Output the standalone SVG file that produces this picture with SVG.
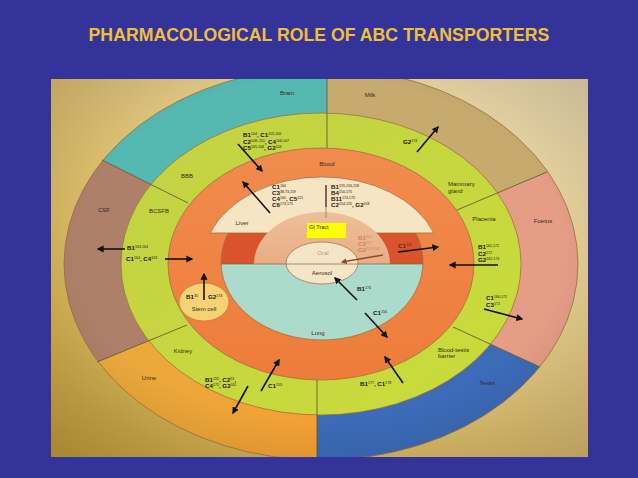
<svg xmlns="http://www.w3.org/2000/svg" width="638" height="478" viewBox="0 0 638 478">
<defs>
<style>
.title{font-family:"Liberation Sans",Arial,sans-serif;font-weight:bold;font-size:17.7px;fill:#f0c034;text-anchor:middle}
.rl{font-family:"Liberation Sans",Arial,sans-serif;font-size:6px;fill:#3a2a1c;text-anchor:middle}
.rs{font-family:"Liberation Sans",Arial,sans-serif;font-size:6px;fill:#3a2a1c}
.tl{font-family:"Liberation Sans",Arial,sans-serif;font-weight:bold;font-size:6.2px;fill:#1e1610}
.tf{font-family:"Liberation Sans",Arial,sans-serif;font-weight:bold;font-size:6.2px;fill:#c98566}
.sp{font-size:3.6px;baseline-shift:super;font-weight:normal}
.div{stroke:#6e5a30;stroke-width:0.9;fill:none}
.edge{stroke:#a0703c;stroke-width:0.8}
.arr{stroke:#111;stroke-width:1.6;fill:none;marker-end:url(#ah)}
.arrb{stroke:#8a4a32;stroke-width:1.3;fill:none;marker-end:url(#ahb)}
</style>
<marker id="ah" viewBox="0 0 10 10" refX="8" refY="5" markerWidth="4.4" markerHeight="4.4" orient="auto" markerUnits="strokeWidth"><path d="M0,0 L10,5 L0,10 Z" fill="#111"/></marker>
<marker id="ahb" viewBox="0 0 10 10" refX="8" refY="5" markerWidth="4.5" markerHeight="4.5" orient="auto" markerUnits="strokeWidth"><path d="M0,0 L10,5 L0,10 Z" fill="#8a4a32"/></marker>
<linearGradient id="paper" x1="0" y1="1" x2="1" y2="0">
<stop offset="0" stop-color="#c6a23e"/><stop offset="0.45" stop-color="#ddc070"/><stop offset="1" stop-color="#e9d8b2"/>
</linearGradient>
<linearGradient id="urineG" x1="0" y1="0" x2="1" y2="0">
<stop offset="0" stop-color="#e6b040"/><stop offset="1" stop-color="#f3a035"/>
</linearGradient>
<linearGradient id="gG" x1="0" y1="0" x2="1" y2="1">
<stop offset="0" stop-color="#c2d244"/><stop offset="1" stop-color="#cadc3a"/>
</linearGradient>
<linearGradient id="oG" x1="0" y1="0" x2="0" y2="1">
<stop offset="0" stop-color="#f08c4e"/><stop offset="1" stop-color="#ee7c3a"/>
</linearGradient>
<linearGradient id="domeG" x1="0" y1="0" x2="0" y2="1">
<stop offset="0" stop-color="#ecc09a"/><stop offset="1" stop-color="#e79a6c"/>
</linearGradient>
<radialGradient id="vig" cx="0.5" cy="0.45" r="0.75">
<stop offset="0.6" stop-color="#000" stop-opacity="0"/><stop offset="1" stop-color="#3a2200" stop-opacity="0.22"/>
</radialGradient>
<clipPath id="photo"><rect x="51" y="79" width="537" height="378"/></clipPath>
<clipPath id="outerE"><ellipse cx="321" cy="264" rx="257" ry="196"/></clipPath>
<clipPath id="disc"><ellipse cx="322" cy="262" rx="101" ry="78"/></clipPath>
<clipPath id="above"><rect x="0" y="0" width="638" height="264"/></clipPath>
</defs>

<rect width="638" height="478" fill="#333399"/>
<text class="title" x="319" y="41.4">PHARMACOLOGICAL ROLE OF ABC TRANSPORTERS</text>

<g clip-path="url(#photo)">
<rect x="51" y="79" width="537" height="378" fill="url(#paper)"/>

<g id="outer-ring" clip-path="url(#outerE)">
<g id="brain"><path d="M320,266 L188,203 L0,109 L0,0 L327,0 L327,266 Z" fill="#55b9b1"/></g>
<g id="milk"><path d="M327,266 L327,0 L638,0 L638,134 L457,210 Z" fill="#c7aa6e"/></g>
<g id="foetus"><path d="M320,266 L457,210 L638,134 L638,412 L453,327 Z" fill="#e59d86"/></g>
<g id="testis"><path d="M320,266 L453,327 L638,412 L638,478 L317,478 L317,266 Z" fill="#3c6bb8"/></g>
<g id="urine"><path d="M317,266 L317,478 L0,478 L0,402 L187,325 Z" fill="url(#urineG)"/></g>
<g id="csf"><path d="M320,266 L187,325 L0,402 L0,109 L188,203 Z" fill="#ae806a"/></g>
</g>
<ellipse cx="321" cy="264" rx="257" ry="196" fill="none" class="edge"/>

<g id="green-ring"><ellipse cx="321" cy="264" rx="200" ry="151" fill="url(#gG)" class="edge"/></g>
<g id="blood-ring"><ellipse cx="321" cy="264" rx="153" ry="116" fill="url(#oG)" class="edge"/></g>

<g id="inner-disc">
<g clip-path="url(#disc)">
<rect x="210" y="230" width="220" height="34" fill="#d9542c"/>
<rect x="210" y="264" width="220" height="80" fill="#acdacb"/>
</g>
<ellipse cx="322" cy="262" rx="101" ry="78" fill="none" class="edge"/>
</g>

<g id="liver">
<path d="M210.1,233 A119,85 0 0 1 433.9,233 Z" fill="#f6e5c2" class="edge"/>
</g>

<g id="gi-tract">
<ellipse cx="322" cy="264" rx="68" ry="52" fill="url(#domeG)" clip-path="url(#above)"/>
<line x1="221" y1="264" x2="423" y2="264" stroke="#8a6040" stroke-width="0.7"/>
<rect x="307" y="223" width="39" height="15" fill="#ffff00"/>
<text x="309" y="229" style="font-family:'Liberation Sans',Arial,sans-serif;font-size:5.5px;fill:#222">GI Tract</text>
</g>

<g id="oral-aerosol">
<ellipse cx="322" cy="263" rx="36" ry="21" fill="#f4e5c6" stroke="#a06a40" stroke-width="0.7"/>
<line x1="286" y1="264" x2="358" y2="264" stroke="#8a6040" stroke-width="0.7"/>
<text class="rl" x="323" y="255" style="fill:#b49c84">Oral</text>
<text class="rl" x="322" y="275">Aerosol</text>
</g>

<g id="stem-cell">
<ellipse cx="204" cy="302" rx="25" ry="19" fill="#f5d274" stroke="#c8783a" stroke-width="0.8"/>
<text class="tl" x="186" y="299">B1<tspan class="sp">35</tspan></text>
<text class="tl" x="208" y="299">G2<tspan class="sp">174</tspan></text>
<text class="rl" x="204" y="311">Stem cell</text>
</g>

<g id="dividers">
<line class="div" x1="102" y1="160" x2="188" y2="203"/>
<line class="div" x1="327" y1="70" x2="327" y2="148"/>
<line class="div" x1="547" y1="172" x2="457" y2="210"/>
<line class="div" x1="540" y1="367" x2="453" y2="327"/>
<line class="div" x1="97" y1="362" x2="187" y2="325"/>
<line class="div" x1="317" y1="380" x2="317" y2="470"/>
</g>

<g id="region-labels">
<text class="rl" x="287" y="95">Brain</text>
<text class="rl" x="370" y="97">Milk</text>
<text class="rl" x="104" y="212">CSF</text>
<text class="rl" x="159" y="213">BCSFB</text>
<text class="rl" x="187" y="178">BBB</text>
<text class="rl" x="327" y="166">Blood</text>
<text class="rs" x="448" y="186">Mammary</text>
<text class="rs" x="448" y="193">gland</text>
<text class="rl" x="484" y="221">Placenta</text>
<text class="rl" x="543" y="223">Foetus</text>
<text class="rl" x="242" y="225">Liver</text>
<text class="rl" x="318" y="335">Lung</text>
<text class="rs" x="438" y="352">Blood-testis</text>
<text class="rs" x="438" y="358">barrier</text>
<text class="rl" x="487" y="385">Testis</text>
<text class="rl" x="183" y="353">Kidney</text>
<text class="rl" x="149" y="380">Urine</text>
</g>

<g id="transporter-labels">
<text class="tl" x="243" y="137">B1<tspan class="sp">104</tspan>, C1<tspan class="sp">105,106</tspan></text>
<text class="tl" x="243" y="143.5">C2<tspan class="sp">108–110</tspan>, C4<tspan class="sp">106,107</tspan></text>
<text class="tl" x="243" y="150">C5<tspan class="sp">105,108</tspan>, G2<tspan class="sp">144</tspan></text>

<text class="tl" x="272" y="189">C1<tspan class="sp">160</tspan></text>
<text class="tl" x="272" y="195">C3<tspan class="sp">38,73,159</tspan></text>
<text class="tl" x="272" y="201">C4<tspan class="sp">160</tspan>, C5<tspan class="sp">115</tspan></text>
<text class="tl" x="272" y="207">C6<tspan class="sp">173,175</tspan></text>

<text class="tl" x="331" y="189">B1<tspan class="sp">155,156,158</tspan></text>
<text class="tl" x="331" y="195">B4<tspan class="sp">150,175</tspan></text>
<text class="tl" x="331" y="201">B11<tspan class="sp">174,175</tspan></text>
<text class="tl" x="331" y="207">C2<tspan class="sp">154,155</tspan>, G2<tspan class="sp">158</tspan></text>

<text class="tf" x="358" y="240">B1<tspan class="sp">157</tspan></text>
<text class="tf" x="358" y="246">C2<tspan class="sp">157</tspan></text>
<text class="tf" x="358" y="252">G2<tspan class="sp">157,158</tspan></text>

<text class="tl" x="398" y="248" style="fill:#5a2414">C1<tspan class="sp">155</tspan></text>

<text class="tl" x="478" y="249">B1<tspan class="sp">162,172</tspan></text>
<text class="tl" x="478" y="255.5">C2<tspan class="sp">172</tspan></text>
<text class="tl" x="478" y="262">G2<tspan class="sp">162,174</tspan></text>

<text class="tl" x="403" y="144">G2<tspan class="sp">174</tspan></text>

<text class="tl" x="127" y="250">B1<tspan class="sp">163,164</tspan></text>
<text class="tl" x="126" y="261">C1<tspan class="sp">164</tspan>, C4<tspan class="sp">163</tspan></text>

<text class="tl" x="357" y="291">B1<tspan class="sp">174</tspan></text>
<text class="tl" x="373" y="315">C1<tspan class="sp">156</tspan></text>

<text class="tl" x="486" y="300">C1<tspan class="sp">166,172</tspan></text>
<text class="tl" x="486" y="307">C3<tspan class="sp">172</tspan></text>

<text class="tl" x="360" y="386">B1<tspan class="sp">177</tspan>, C1<tspan class="sp">178</tspan></text>

<text class="tl" x="205" y="382">B1<tspan class="sp">155</tspan>, C2<tspan class="sp">53</tspan>,</text>
<text class="tl" x="205" y="388">C4<tspan class="sp">175</tspan>, G2<tspan class="sp">161</tspan></text>
<text class="tl" x="268" y="388">C1<tspan class="sp">153</tspan></text>
</g>

<g id="connectors">
<path class="arr" d="M238,144 L262,171"/>
<path class="arr" d="M270,213 L243,182"/>
<line x1="326" y1="185" x2="326" y2="207" stroke="#3a2418" stroke-width="1.3"/>
<path d="M326,207 L326,218" stroke="#a0785a" stroke-width="0.9" fill="none"/>
<path class="arr" d="M417,152 L438,127"/>
<path class="arr" d="M398,252 L438,247"/>
<path class="arrb" d="M383,255 L342,262"/>
<path class="arr" d="M498,265 L450,265"/>
<path class="arr" d="M125,249 L98,249"/>
<path class="arr" d="M165,259 L192,259"/>
<path class="arr" d="M204,300 L204,274"/>
<path class="arr" d="M357,300 L335,278"/>
<path class="arr" d="M365,313 L387,337"/>
<path class="arr" d="M484,309 L522,319"/>
<path class="arr" d="M403,383 L385,357"/>
<path class="arr" d="M261,391 L279,360"/>
<path class="arr" d="M248,386 L233,413"/>
</g>

<rect x="51" y="79" width="537" height="378" fill="url(#vig)"/>
</g>
</svg>
